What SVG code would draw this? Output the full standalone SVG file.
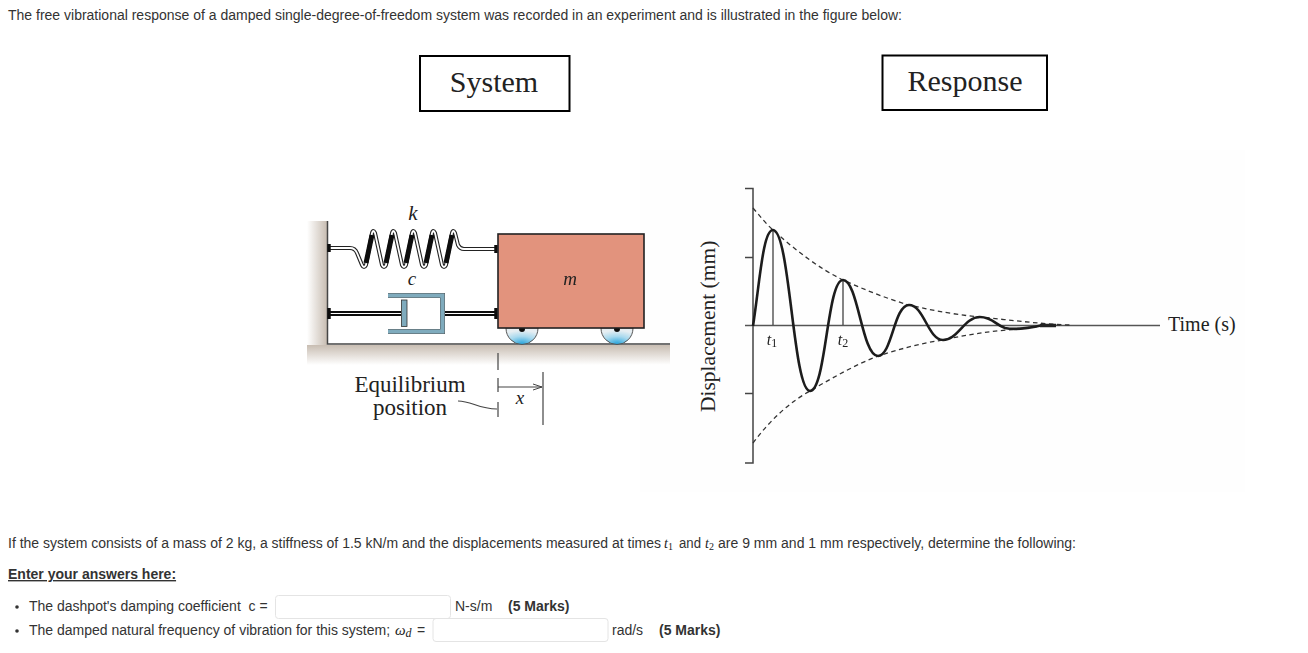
<svg xmlns="http://www.w3.org/2000/svg" width="1308" height="653" viewBox="0 0 1308 653">
<style>
.t{font:14px "Liberation Sans",Arial,sans-serif;fill:#333}
.b{font:bold 14px "Liberation Sans",Arial,sans-serif;fill:#333}
.s{font-family:"Liberation Serif","Times New Roman",serif;fill:#222}
.i{font-style:italic}
.box{fill:#fff;stroke:#000;stroke-width:2}
.in{fill:#fff;stroke:#e4e4e4;stroke-width:1}
.ln{fill:none;stroke:#444;stroke-width:1.2}
.dash{fill:none;stroke:#333;stroke-width:1.300;stroke-dasharray:4.500 3.500}
.cv{fill:none;stroke:#1c1c1c;stroke-width:2.600}
</style>
<defs>
<linearGradient id="wallShade" x1="0" x2="1" y1="0" y2="0"><stop offset="0" stop-color="#fff"/><stop offset="1" stop-color="#c8bdb2"/></linearGradient>
<linearGradient id="floorShade" x1="0" x2="0" y1="0" y2="1"><stop offset="0" stop-color="#c8bdb2"/><stop offset="1" stop-color="#fff"/></linearGradient>
<radialGradient id="wheel" cx="0.5" cy="0.95" r="0.8"><stop offset="0" stop-color="#2aa5dc"/><stop offset="0.55" stop-color="#a8d9ee"/><stop offset="1" stop-color="#e6eef2"/></radialGradient>
<filter id="soft" x="-5%" y="-5%" width="110%" height="110%"><feGaussianBlur stdDeviation="0.4"/></filter>
<marker id="arr" markerWidth="10" markerHeight="8" refX="9" refY="4" orient="auto" markerUnits="userSpaceOnUse"><path d="M0 1 L9 4 L0 7" fill="none" stroke="#444" stroke-width="1"/></marker>
</defs>
<rect width="1308" height="653" fill="#fff"/>
<rect x="640" y="150" width="605" height="342" fill="#fefefe"/>

<text class="t" x="8" y="20" textLength="894" lengthAdjust="spacingAndGlyphs">The free vibrational response of a damped single-degree-of-freedom system was recorded in an experiment and is illustrated in the figure below:</text>

<g id="system-title"><rect class="box" x="420" y="56" width="149.500" height="55"/><text class="s" x="494" y="92" font-size="30" text-anchor="middle">System</text></g>
<g id="response-title"><rect class="box" x="882.500" y="55.500" width="164.500" height="54.500"/><text class="s" x="965" y="91" font-size="30" text-anchor="middle">Response</text></g>

<g id="mechanical-system" filter="url(#soft)">
<rect x="307" y="221" width="20" height="124" fill="url(#wallShade)"/>
<rect x="307" y="345" width="363" height="20" fill="url(#floorShade)"/>
<path d="M327.500 221V344H670" fill="none" stroke="#444" stroke-width="1.500"/>
<g id="wheels">
<path d="M506 328A16 16.500 0 0 0 538 328Z" fill="url(#wheel)" stroke="#555" stroke-width="1"/>
<path d="M601 328A16 16.500 0 0 0 633 328Z" fill="url(#wheel)" stroke="#555" stroke-width="1"/>
<circle cx="522" cy="329" r="3" fill="#111"/><circle cx="617" cy="329" r="3" fill="#111"/>
</g>
<g id="spring">
<path d="M328 248H350Q355 248 357 253L362 265Q364 269 366 265L372 233Q373 229 375 233L382 265Q384 269 386 265L392 233Q393 229 395 233L402 265Q404 269 406 265L412 233Q413 229 415 233L422 265Q424 269 426 265L432 233Q433 229 435 233L442 265Q444 269 446 265L452 233Q453 229 455 233L458 245Q460 249 464 249H497" fill="none" stroke="#222" stroke-width="4" stroke-linejoin="round"/>
<path d="M328 248H350Q355 248 357 253L362 265Q364 269 366 265L372 233Q373 229 375 233L382 265Q384 269 386 265L392 233Q393 229 395 233L402 265Q404 269 406 265L412 233Q413 229 415 233L422 265Q424 269 426 265L432 233Q433 229 435 233L442 265Q444 269 446 265L452 233Q453 229 455 233L458 245Q460 249 464 249H497" fill="none" stroke="#fff" stroke-width="1.800" stroke-linejoin="round"/>
<path d="M366 263L372 235M386 263L392 235M406 263L412 235M426 263L432 235M446 263L452 235" fill="none" stroke="#111" stroke-width="5"/>
<path d="M329 244v8M496 245v8" stroke="#111" stroke-width="3.500"/>
</g>
<g id="dashpot">
<path d="M328 313.500H401M444 313.500H497" stroke="#111" stroke-width="5" fill="none"/>
<path d="M328 313.500H401M444 313.500H497" stroke="#fff" stroke-width="1" fill="none"/>
<path d="M388 295.500H442.500V331.500H388" fill="none" stroke="#555" stroke-width="5"/>
<path d="M388 295.500H442.500V331.500H388" fill="none" stroke="#7fabbd" stroke-width="4"/>
<rect x="401.500" y="300" width="5.500" height="26.500" fill="#7fabbd" stroke="#333" stroke-width="0.800"/>
<path d="M329 308v11M496 308v11" stroke="#111" stroke-width="3.500"/>
</g>
<g id="mass"><rect x="498" y="234" width="146" height="94" fill="#e2937d" stroke="#222" stroke-width="1.600"/><text class="s i" x="570" y="285" font-size="19" text-anchor="middle">m</text></g>
</g>
<text class="s i" x="413" y="220" font-size="21" text-anchor="middle">k</text>
<text class="s i" x="412" y="285" font-size="19" text-anchor="middle">c</text>

<g id="equilibrium">
<path class="ln" d="M498 353V370M498 378V392M498 402V417M543 372V425"/>
<path class="ln" d="M498 387H542" marker-end="url(#arr)"/>
<path class="ln" d="M458 401C472 401 478 409 497 409"/>
<text class="s" x="410" y="392" font-size="23" text-anchor="middle">Equilibrium</text>
<text class="s" x="410" y="415" font-size="23" text-anchor="middle">position</text>
<text class="s i" x="520" y="404" font-size="19" text-anchor="middle">x</text>
</g>

<g id="response-plot" filter="url(#soft)">
<path d="M745 188.500H753V463H745M745 257.500H753M745 393.500H753" fill="none" stroke="#444" stroke-width="1.500"/>
<path d="M745 325.500H1160" fill="none" stroke="#555" stroke-width="1.500"/>
<path d="M773 230V325M843 280V325" fill="none" stroke="#444" stroke-width="1.300"/>
<path class="dash" d="M753 208C760 216 766 224 773 230C795 250 820 269 843 280C865 290 888 299 909 305C935 311 958 315 980 317C1010 320 1040 324 1070 325"/>
<path class="dash" d="M753 443C770 420 790 402 810 391C832 378 855 365 878 356C900 349 922 343 943 340C965 335 985 332 1007 330C1025 328 1040 326 1060 325"/>
<path class="cv" d="M753 326C760 280 763 230 773 230C790 230 793 391 810 391C826 391 827 280 843 280C858 280 862 356 878 356C892 356 894 305 909 305C924 305 928 340 943 340C958 340 964 317 980 317C992 317 996 325 1005 328C1015 330 1030 328 1043 325"/>
<path d="M1040 325.500H1056" stroke="#222" stroke-width="3.500"/>
<text class="s i" x="772" y="345" font-size="16" text-anchor="middle">t<tspan font-size="12" dy="2" font-style="normal">1</tspan></text>
<text class="s i" x="843" y="345" font-size="16" text-anchor="middle">t<tspan font-size="12" dy="2" font-style="normal">2</tspan></text>
</g>
<text class="s" transform="translate(715 412) rotate(-90)" font-size="21.500">Displacement (mm)</text>
<text class="s" x="1168" y="331" font-size="20">Time (s)</text>

<text class="t" x="8" y="548" textLength="653" lengthAdjust="spacingAndGlyphs">If the system consists of a mass of 2 kg, a stiffness of 1.5 kN/m and the displacements measured at times</text>
<text class="s i" x="664" y="548" font-size="14">t<tspan font-size="10" dy="2" font-style="normal">1</tspan></text>
<text class="t" x="679" y="548" textLength="22" lengthAdjust="spacingAndGlyphs">and</text>
<text class="s i" x="705" y="548" font-size="14">t<tspan font-size="10" dy="2" font-style="normal">2</tspan></text>
<text class="t" x="718" y="548" textLength="358" lengthAdjust="spacingAndGlyphs">are 9 mm and 1 mm respectively, determine the following:</text>

<text class="b" x="8" y="579" text-decoration="underline">Enter your answers here:</text>

<circle cx="17" cy="607" r="1.800" fill="#333"/>
<text class="t" x="29" y="611" xml:space="preserve">The dashpot's damping coefficient  c =</text>
<rect class="in" x="275.500" y="595.500" width="175" height="23" rx="3"/>
<text class="t" x="455" y="611">N-s/m</text>
<text class="b" x="508" y="611">(5 Marks)</text>

<circle cx="17" cy="631" r="1.800" fill="#333"/>
<text class="t" x="29" y="635">The damped natural frequency of vibration for this system;</text>
<text class="s i" x="395" y="635" font-size="15">ω<tspan font-size="12" dy="2">d</tspan></text>
<text class="t" x="417" y="635">=</text>
<rect class="in" x="433" y="618.500" width="175" height="23" rx="3"/>
<text class="t" x="612" y="635">rad/s</text>
<text class="b" x="659" y="635">(5 Marks)</text>
</svg>
